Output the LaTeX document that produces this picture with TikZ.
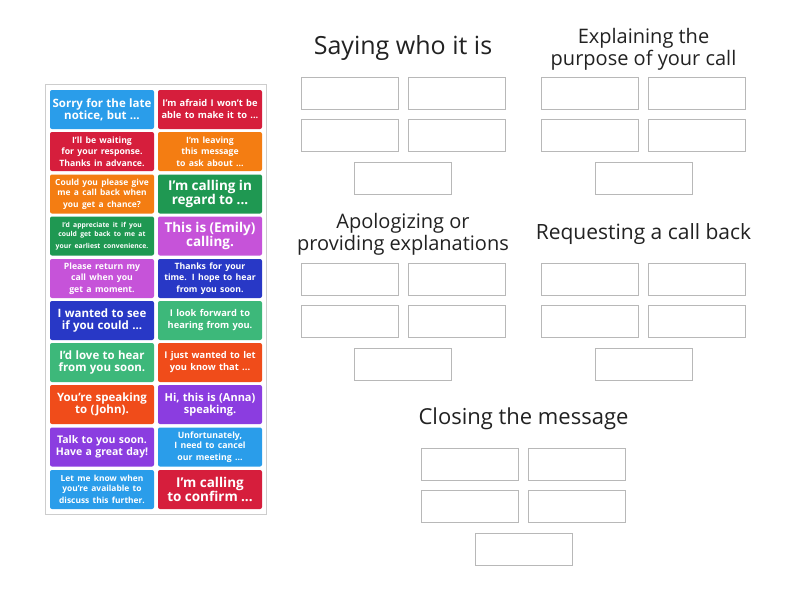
\documentclass[tikz,border=0pt]{standalone}
\usepackage{fontspec}
\setmainfont{Open Sans}
\definecolor{cSky}{HTML}{2A9DEA}
\definecolor{cRed}{HTML}{D61E3C}
\definecolor{cOrg}{HTML}{F47D12}
\definecolor{cGrn}{HTML}{1F9852}
\definecolor{cMag}{HTML}{C653D9}
\definecolor{cDBl}{HTML}{2838C6}
\definecolor{cTeal}{HTML}{3DB87A}
\definecolor{cOrR}{HTML}{F04C1A}
\definecolor{cPur}{HTML}{8B3DE0}
\definecolor{cBox}{HTML}{B8B8B8}
\definecolor{cTxt}{HTML}{222222}
\begin{document}
\begin{tikzpicture}[x=1pt,y=-1pt,
  tile/.style={fill=#1,rounded corners=2pt,minimum width=104pt,minimum height=39pt,text width=104pt,align=center,inner sep=0pt,text=white,font=\bfseries},
  slot/.style={draw=cBox,line width=0.7pt,minimum width=97pt,minimum height=32pt,inner sep=0pt},
  ttl/.style={text=cTxt,align=center,inner sep=0pt}]
\useasboundingbox (0,0) rectangle (800,600);
\fill[white] (0,0) rectangle (800,600);
\node[draw=cBox!70,line width=0.6pt,minimum width=221pt,minimum height=430pt,inner sep=0pt] (panel) at (155.5,299) {};
\newcommand{\tl}[5]{\node[tile=#2] (#1) at (#3,#4) {#5};}
\def\L{102}\def\R{210}
\tl{a1}{cSky}{\L}{109.5}{\fontsize{11.5}{13.5}\selectfont Sorry for the late\\notice, but ...}
\tl{b1}{cRed}{\R}{109.5}{\fontsize{9.3}{12}\selectfont I'm afraid I won't be\\able to make it to ...}
\tl{a2}{cRed}{\L}{151.5}{\fontsize{8.7}{10.5}\selectfont I'll be waiting\\for your response.\\Thanks in advance.}
\tl{b2}{cOrg}{\R}{151.5}{\fontsize{8.7}{10.5}\selectfont I'm leaving\\this message\\to ask about ...}
\tl{a3}{cOrg}{\L}{194}{\fontsize{8.4}{10}\selectfont Could you please give\\me a call back when\\you get a chance?}
\tl{b3}{cGrn}{\R}{194}{\fontsize{13.5}{16}\selectfont I'm calling in\\regard to ...}
\tl{a4}{cGrn}{\L}{236}{\fontsize{6.8}{8.5}\selectfont I'd appreciate it if you\\could get back to me at\\your earliest convenience.}
\tl{b4}{cMag}{\R}{236}{\fontsize{13.5}{16}\selectfont This is (Emily)\\calling.}
\tl{a5}{cMag}{\L}{278.5}{\fontsize{8.7}{10.5}\selectfont Please return my\\call when you\\get a moment.}
\tl{b5}{cDBl}{\R}{278.5}{\fontsize{8.7}{10.5}\selectfont Thanks for your\\time. I hope to hear\\from you soon.}
\tl{a6}{cDBl}{\L}{320.5}{\fontsize{11.5}{14}\selectfont I wanted to see\\if you could ...}
\tl{b6}{cTeal}{\R}{320.5}{\fontsize{9.3}{12}\selectfont I look forward to\\hearing from you.}
\tl{a7}{cTeal}{\L}{362.5}{\fontsize{11.5}{14}\selectfont I'd love to hear\\from you soon.}
\tl{b7}{cOrR}{\R}{362.5}{\fontsize{9.3}{12}\selectfont I just wanted to let\\you know that ...}
\tl{a8}{cOrR}{\L}{404.5}{\fontsize{11.5}{14}\selectfont You're speaking\\to (John).}
\tl{b8}{cPur}{\R}{404.5}{\fontsize{11}{14}\selectfont Hi, this is (Anna)\\speaking.}
\tl{a9}{cPur}{\L}{447}{\fontsize{10.5}{14}\selectfont Talk to you soon.\\Have a great day!}
\tl{b9}{cSky}{\R}{447}{\fontsize{8.7}{10.5}\selectfont Unfortunately,\\I need to cancel\\our meeting ...}
\tl{a10}{cSky}{\L}{489.5}{\fontsize{8.4}{10}\selectfont Let me know when\\you're available to\\discuss this further.}
\tl{b10}{cRed}{\R}{489.5}{\fontsize{13.5}{16}\selectfont I'm calling\\to confirm ...}
% groups
\newcommand{\grp}[3]{%
  \node[slot] (#1a) at (#2-53.5,#3+16) {};
  \node[slot] (#1b) at (#2+53.5,#3+16) {};
  \node[slot] (#1c) at (#2-53.5,#3+58) {};
  \node[slot] (#1d) at (#2+53.5,#3+58) {};
  \node[slot] (#1e) at (#2,#3+101) {};}
\grp{g1}{403}{77}
\grp{g2}{643.5}{77}
\grp{g3}{403}{263}
\grp{g4}{643.5}{263}
\grp{g5}{523.5}{448}
\node[ttl,font=\fontsize{25}{28}\selectfont] (t1) at (403,48) {Saying who it is};
\node[ttl,font=\fontsize{20}{22}\selectfont] (t2) at (643.5,49) {Explaining the\\purpose of your call};
\node[ttl,font=\fontsize{20}{22}\selectfont] (t3) at (403,234) {Apologizing or\\providing explanations};
\node[ttl,font=\fontsize{21}{24}\selectfont] (t4) at (643.5,234) {Requesting a call back};
\node[ttl,font=\fontsize{22}{24}\selectfont] (t5) at (523.5,419) {Closing the message};
\end{tikzpicture}
\end{document}
